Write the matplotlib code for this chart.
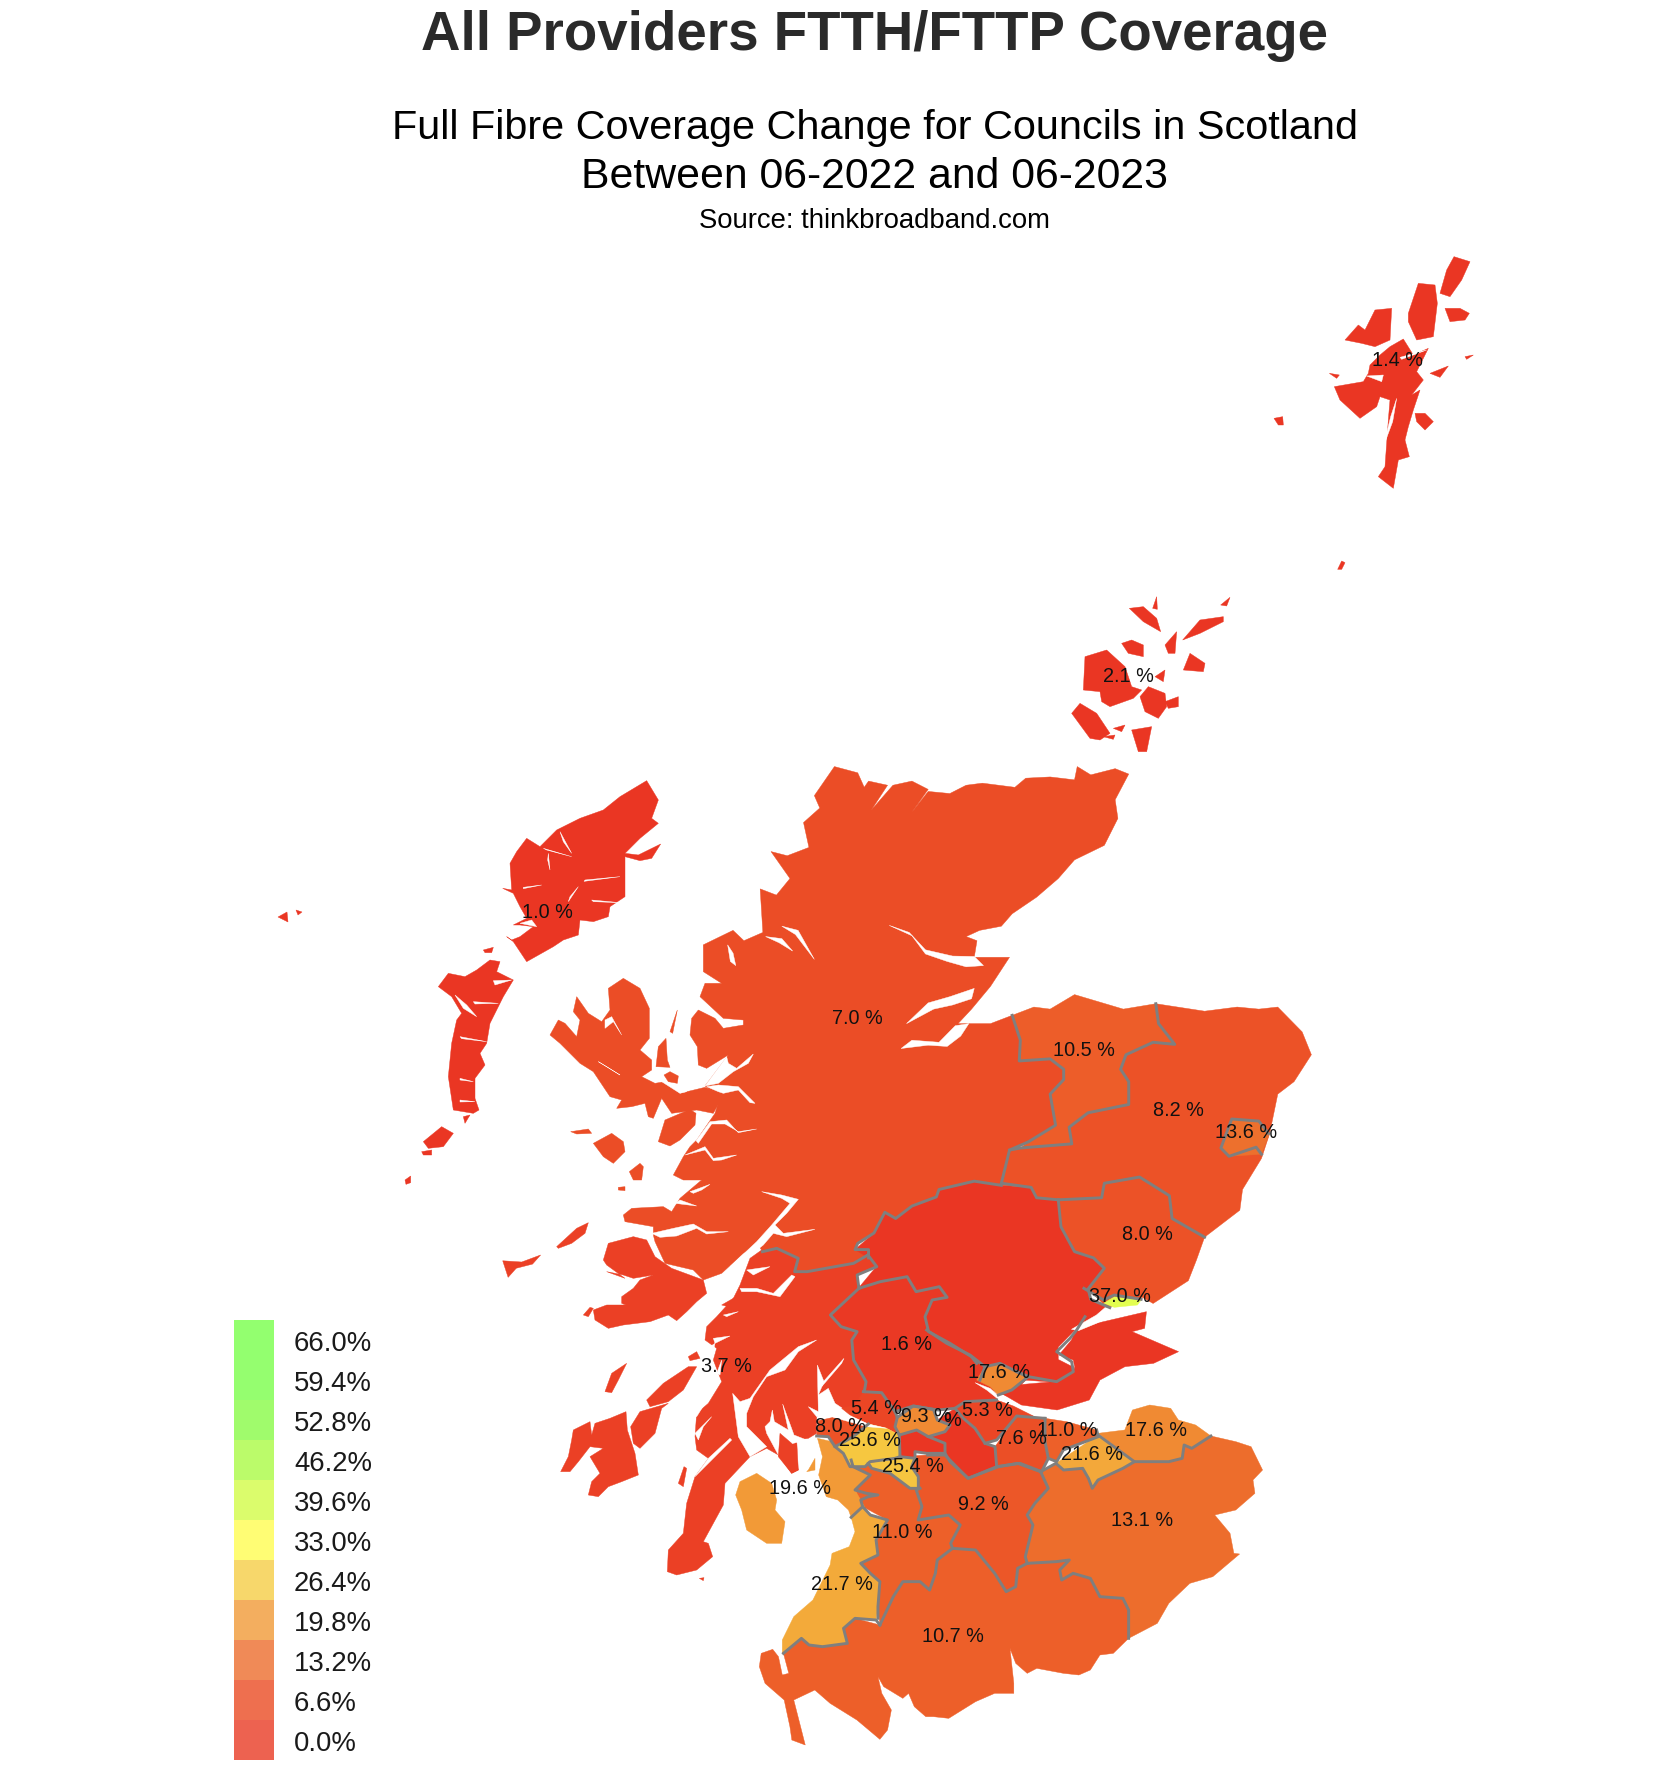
import matplotlib
matplotlib.use("Agg")
import matplotlib.pyplot as plt
from matplotlib.colors import LinearSegmentedColormap, Normalize

def crop(x0, y0, sx, sy):
    return lambda pts: [(x0 + a / sx, y0 + b / sy) for a, b in pts]

z3 = crop(700, 1200, 2.8, 3)
z4 = crop(700, 1400, 2.613, 3)
z5 = crop(500, 750, 1.845, 2.412)
z6 = crop(1000, 240, 3, 3)
z7 = crop(380, 750, 3, 3)
z8 = crop(800, 1330, 3, 3)
z9 = crop(540, 1200, 3, 3)
z10 = crop(590, 950, 3, 3)

# Data
title = "All Providers FTTH/FTTP Coverage"
subtitle = ["Full Fibre Coverage Change for Councils in Scotland", "Between 06-2022 and 06-2023"]
source = "Source: thinkbroadband.com"

legend_labels = ["66.0%", "59.4%", "52.8%", "46.2%", "39.6%", "33.0%", "26.4%", "19.8%", "13.2%", "6.6%", "0.0%"]
legend_colors = ["#93FF6F", "#95FE6F", "#A0FB6C", "#BBFB6A", "#DBFC6C", "#FFFD74", "#F7D76B", "#F3AE5F", "#F08A57", "#EE6F4F", "#ED6250"]

map_stops = [0, 7, 10.5, 13.1, 17.6, 21.7, 25.5, 33, 37, 66]
map_colors = ["#EA3323", "#EB4D26", "#ED5E29", "#ED6E2C", "#F08A33", "#F3AA3A", "#F6C640", "#FFFE54", "#E3FE50", "#75FB4C"]

label_text = ["1.4 %", "2.1 %", "1.0 %", "7.0 %", "10.5 %", "8.2 %", "13.6 %", "8.0 %", "37.0 %", "3.7 %",
              "1.6 %", "17.6 %", "5.4 %", "9.3 %", "%", "5.3 %", "8.0 %", "25.6 %", "11.0 %", "17.6 %",
              "7.6 %", "21.6 %", "25.4 %", "19.6 %", "9.2 %", "13.1 %", "11.0 %", "21.7 %", "10.7 %"]
label_x = [1398, 1128, 547, 857, 1084, 1178, 1246, 1147, 1120, 726,
           907, 999, 876, 926, 952, 987, 840, 870, 1067, 1156,
           1021, 1092, 913, 800, 983, 1142, 902, 842, 953]
label_y = [361, 677, 912, 1018, 1051, 1110, 1133, 1235, 1296, 1366,
           1345, 1373, 1408, 1417, 1420, 1410, 1427, 1441, 1431, 1430,
           1439, 1455, 1467, 1488, 1505, 1521, 1533, 1585, 1637]

# council borders, shared by the outlines below
b_high_moray = z5([(945, 640), (960, 700), (958, 750), (1015, 745), (1040, 770), (1040, 795), (1015, 830), (1025, 905), (975, 945), (940, 965), (925, 1045)])
b_high_perth = z5([(925, 1050), (875, 1040), (810, 1060), (805, 1078), (760, 1100), (730, 1130), (710, 1115), (690, 1165), (660, 1190), (655, 1205), (680, 1205), (680, 1225)])
b_high_argyll = z3([(470, 165), (430, 190), (300, 215), (265, 215), (275, 175), (215, 145), (175, 155)])
b_perth_argyll = z3([(470, 165), (495, 200), (440, 225), (445, 265)])
b_stirling_perth = z3([(445, 265), (505, 245), (580, 230), (605, 275), (670, 260), (692, 292), (650, 300), (630, 350), (640, 395), (700, 430), (760, 470), (775, 490)])
b_stirling_argyll = z3([(445, 265), (365, 345), (395, 380), (440, 395), (425, 420), (430, 480), (465, 545), (460, 575)])
b_moray_aber = z5([(1210, 612), (1215, 660), (1245, 710), (1205, 705), (1155, 735), (1145, 770), (1160, 800), (1160, 855), (1085, 875), (1050, 910), (1055, 950), (960, 960), (940, 965)])
b_perth_aber = z5([(925, 1045), (980, 1055), (990, 1080), (1030, 1085)])
b_angus_aber = z5([(1030, 1085), (1110, 1080), (1115, 1045), (1180, 1030), (1235, 1075), (1240, 1130), (1300, 1175)])
b_perth_angus = z5([(1030, 1085), (1035, 1150), (1060, 1210), (1095, 1225), (1115, 1250), (1085, 1300), (1090, 1325), (1125, 1345)])
b_fife_perth = z8([(650, 125), (685, 140), (770, 155), (820, 125), (815, 95), (770, 65), (810, 25), (830, 0), (855, -40)])
b_clack = z8([(540, 150), (555, 110), (600, 100), (650, 125), (685, 140), (660, 160), (635, 180), (595, 195)])
b_stirling_clack = z8([(380, 0), (440, 40), (510, 75), (555, 110)])
b_wdun = z8([(190, 185), (245, 188), (285, 245), (292, 262), (285, 290), (298, 315)])
b_stirling_south = z8([(285, 245), (340, 228), (400, 238), (415, 240), (465, 235), (495, 215), (590, 210)])
b_orange = z8([(292, 262), (340, 228), (400, 238), (412, 270), (450, 285), (435, 305), (385, 320), (350, 300), (298, 315)])
b_glasgow = z8([(298, 315), (300, 380), (345, 385), (345, 365), (380, 370), (435, 370), (435, 340), (385, 320)])
b_inverclyde = z8([(50, 318), (85, 320), (105, 350), (160, 320), (205, 282)])
b_renfrew = z8([(105, 350), (130, 370), (150, 410), (195, 410), (210, 395), (285, 385), (300, 380)])
b_erenfrew = z8([(205, 400), (215, 415), (270, 430), (330, 475), (355, 475), (355, 440), (335, 410), (345, 385)])
b_nlan = z8([(435, 370), (450, 395), (505, 445), (590, 410), (585, 350), (555, 340), (525, 295), (490, 265), (465, 235)])
b_falkirk = z8([(555, 340), (590, 330), (650, 258), (735, 265)])
b_wlothian = z8([(590, 410), (660, 400), (725, 425), (745, 385), (735, 335), (735, 265)])
b_edinburgh = z8([(745, 385), (770, 395), (790, 360), (895, 320), (890, 300)])
b_midlothian = z4([(1040, 105), (1135, 185), (1105, 205), (1040, 240), (1025, 265), (1015, 235), (1000, 205), (950, 210), (930, 190), (890, 215)])
b_elothian = z4([(1135, 185), (1225, 185), (1260, 175), (1265, 135), (1285, 145), (1335, 108)])
b_slan_east = z4([(890, 215), (910, 265), (875, 310), (855, 345), (870, 375), (850, 470), (855, 490)])
b_slan_north = z4([(890, 215), (830, 190), (780, 200), (700, 235), (640, 165), (595, 165)])
b_border_dg = z4([(855, 490), (930, 485), (965, 480), (940, 510), (945, 540), (975, 520), (1020, 535), (1045, 590), (1105, 595), (1120, 630), (1120, 715)])
b_slan_dg = z4([(855, 490), (830, 505), (825, 560), (800, 575), (770, 520), (720, 450), (660, 445)])
b_slan_eayr = z4([(660, 445), (655, 430), (680, 375), (650, 345), (570, 360), (580, 320), (565, 270), (575, 265)])
b_eayr_dg = z4([(660, 445), (620, 480), (615, 520), (600, 570), (575, 545), (530, 545), (505, 590), (470, 675)])
b_eayr_sayr = z4([(395, 352), (425, 320), (445, 345), (490, 360), (460, 420), (465, 465), (420, 490), (445, 520), (470, 545), (465, 620), (465, 655)])
b_sayr_dg = z4([(470, 675), (460, 660), (405, 655), (375, 685), (385, 730), (320, 740), (285, 735), (265, 715), (218, 760)])
b_nayr_eayr = z4([(425, 320), (420, 300), (440, 290), (465, 285), (435, 280), (405, 270), (445, 225), (400, 200), (395, 180)])

highland = (b_high_moray + b_high_perth + b_high_argyll
            + z9([(655, 135), (610, 160), (545, 220), (490, 240), (460, 210), (375, 190), (345, 125)])
            + z10([(190, 855), (190, 830), (105, 815), (100, 795), (125, 775), (220, 770), (245, 785), (270, 745), (335, 690), (280, 690), (250, 675),
                   (280, 620), (300, 590), (320, 570), (375, 490), (390, 440), (345, 408), (415, 315), (350, 355), (325, 345), (322, 290), (300, 255),
                   (305, 205), (325, 180), (375, 205), (400, 235), (460, 225), (460, 210), (400, 205), (330, 140), (345, 100), (395, 100), (340, 65), (340, 0)])
            + z5([(375, 470), (430, 435), (450, 460), (485, 440), (480, 335), (510, 350), (535, 310), (500, 245), (530, 255), (570, 235), (560, 175), (590, 140), (580, 110),
                  (617, 40), (660, 55), (672, 90), (680, 75), (715, 85), (685, 145), (725, 85), (760, 75), (790, 95), (760, 150), (790, 100), (830, 105), (860, 85), (890, 80),
                  (950, 90), (970, 68), (1015, 65), (1060, 72), (1065, 40), (1090, 60), (1135, 45), (1160, 58), (1135, 120), (1140, 165), (1115, 230), (1060, 265), (1030, 310),
                  (990, 355), (945, 395), (925, 425), (885, 435), (860, 450), (880, 460), (875, 500), (940, 500), (905, 570), (870, 625), (845, 660), (905, 660)]))
skye = z10([(55, 115), (100, 85), (150, 115), (178, 175), (178, 265), (150, 300), (185, 330), (185, 360), (155, 380), (195, 400), (225, 395), (270, 430), (345, 412),
            (385, 425), (395, 445), (370, 490), (320, 480), (245, 490), (215, 445), (190, 505), (175, 500), (165, 460), (125, 470), (80, 475), (95, 450), (60, 440), (20, 380), (10, 365)]) \
    + z7([(600, 940), (540, 880), (510, 855), (535, 810), (555, 820), (590, 860), (600, 810), (580, 785), (590, 740), (625, 790), (665, 815), (690, 780)])
sleat = z10([(205, 575), (225, 510), (300, 478), (318, 490), (315, 525), (270, 570), (240, 588)])
raasay = z10([(198, 350), (205, 290), (228, 265), (232, 330), (240, 352)])
rona = z10([(240, 245), (262, 180), (248, 250)])
rum = z10([(10, 580), (65, 550), (100, 575), (105, 605), (70, 640), (40, 620)])
eigg = z10([(118, 665), (150, 640), (160, 650), (155, 690), (130, 690)])
muck = z10([(85, 712), (105, 710), (105, 722), (85, 720)])
canna = z7([(572, 1145), (625, 1137), (635, 1150), (590, 1152)])
highland_lochs = [
    z10([(515, 725), (575, 735), (625, 748), (590, 790), (555, 825), (580, 850), (675, 838), (590, 860), (550, 850), (520, 885), (440, 950), (420, 950), (500, 875), (545, 825), (600, 760), (575, 745)]),
    z10([(185, 850), (250, 835), (310, 822), (350, 845), (415, 845), (350, 852), (320, 835), (260, 858), (210, 862)]),
    z10([(255, 760), (320, 768), (270, 750)]),
    z10([(300, 725), (360, 703), (335, 720), (310, 730)]),
    z10([(285, 615), (345, 590), (370, 625), (440, 615), (395, 630), (370, 632), (345, 600)]),
    z10([(318, 572), (360, 515), (410, 510), (445, 548), (500, 537), (445, 545), (405, 522), (365, 522), (325, 580)]),
    z10([(350, 410), (385, 405), (445, 410), (495, 460), (480, 458), (445, 420), (400, 430), (385, 425)]),
    z10([(345, 408), (410, 320), (415, 340), (440, 355), (490, 312), (475, 340), (430, 365), (385, 400)]),
    z10([(225, 365), (265, 375), (290, 425), (270, 430), (215, 395)]),
    z10([(45, 210), (65, 200), (95, 255), (70, 215), (45, 235)]),
    z10([(25, 335), (90, 375), (50, 350)]),
    z5([(718, 423), (755, 440), (785, 482), (835, 497), (875, 498), (892, 520), (860, 523), (825, 510), (785, 492), (760, 448)]),
    z5([(750, 660), (790, 610), (830, 595), (875, 575), (870, 600), (835, 615), (800, 625)]),
    z5([(740, 720), (760, 700), (810, 705), (840, 665), (865, 660), (850, 690), (825, 715), (790, 712)]),
    z5([(420, 470), (430, 490), (435, 520), (425, 510)]),
    z5([(490, 450), (520, 455), (540, 485), (515, 465)]),
    z5([(520, 425), (550, 435), (580, 505), (545, 445)]),
]
scalpay = z10([(222, 375), (240, 365), (265, 378), (262, 400), (235, 395)])

lewis = z7([(800, 92), (835, 150), (815, 205), (835, 220), (780, 265), (735, 310), (775, 315), (842, 282), (815, 325), (780, 332), (735, 320), (735, 440), (690, 470), (685, 500), (640, 515), (600, 510),
            (595, 555), (550, 570), (520, 590), (440, 635), (400, 575), (380, 560), (395, 570), (420, 560), (460, 530), (420, 525), (400, 525), (440, 505), (420, 470), (400, 430), (368, 415), (395, 420),
            (390, 340), (410, 305), (440, 265), (480, 290), (530, 240), (600, 205), (670, 180), (720, 140)])
uist = z7([(175, 710), (205, 670), (255, 680), (290, 660), (330, 630), (360, 635), (350, 665), (400, 690), (370, 740), (350, 780), (330, 820), (320, 880), (300, 910), (315, 945), (285, 985), (285, 1045),
           (297, 1080), (280, 1090), (220, 1080), (205, 980), (215, 880), (230, 810), (245, 790), (215, 740)])
barra = z7([(130, 1175), (185, 1130), (220, 1150), (190, 1190), (145, 1195)])
vatersay = z7([(125, 1205), (155, 1200), (155, 1215), (130, 1215)])
mingulay = z7([(75, 1290), (92, 1278), (92, 1298), (78, 1303)])
benbecula = z7([(250, 1100), (270, 1095), (255, 1120)])
scarp = z7([(310, 600), (340, 592), (335, 608), (315, 608)])
isles_lochs = [
    z7([(505, 310), (510, 360), (503, 330)]), z7([(430, 412), (485, 405), (430, 416)]), z7([(615, 390), (720, 380), (612, 394)]),
    z7([(565, 455), (595, 410), (570, 440)]), z7([(635, 450), (720, 458), (640, 455)]), z7([(490, 295), (575, 320), (500, 300)]),
    z7([(540, 245), (575, 310), (550, 275)]), z7([(225, 735), (260, 765), (290, 800), (250, 775)]), z7([(280, 755), (355, 760), (285, 762)]),
    z7([(240, 860), (320, 875), (245, 866)]), z7([(340, 692), (395, 690), (345, 705)]), z7([(240, 985), (280, 995), (240, 990)]),
    z7([(240, 1050), (285, 1055), (240, 1056)]), z7([(420, 520), (455, 510), (470, 530)]),
]

orkney = [z6([(255, 1250), (320, 1230), (375, 1280), (395, 1340), (425, 1350), (400, 1375), (330, 1400), (305, 1385), (300, 1355), (250, 1350)]),
          z6([(215, 1420), (240, 1390), (290, 1420), (330, 1480), (300, 1500), (270, 1495)]),
          z6([(395, 1470), (455, 1460), (440, 1535), (415, 1535)]),
          z6([(420, 1370), (445, 1340), (495, 1360), (500, 1400), (475, 1435), (435, 1415)]),
          z6([(495, 1385), (535, 1370), (535, 1400), (505, 1405)]),
          z6([(365, 1210), (395, 1200), (430, 1215), (430, 1250), (385, 1240)]),
          z6([(388, 1105), (430, 1100), (470, 1135), (482, 1175), (430, 1145)]),
          z6([(458, 1105), (470, 1070), (472, 1108)]),
          z6([(495, 1215), (530, 1175), (525, 1240), (505, 1240)]),
          z6([(548, 1200), (600, 1140), (670, 1130), (670, 1145), (600, 1180)]),
          z6([(550, 1290), (570, 1240), (615, 1270), (610, 1295)]),
          z6([(465, 1310), (495, 1290), (490, 1325)]),
          z6([(662, 1095), (690, 1072), (680, 1098)]),
          z6([(310, 1490), (345, 1485), (340, 1498)]),
          z6([(340, 1465), (375, 1455), (365, 1475)]),
          z6([(1013, 988), (1025, 963), (1035, 968), (1025, 988)])]
shetland = [z6([(1003, 440), (1090, 425), (1105, 400), (1110, 375), (1140, 345), (1170, 320), (1210, 297), (1240, 345), (1285, 325), (1250, 395), (1270, 420), (1235, 465), (1260, 450), (1240, 510), (1225, 560),
                (1215, 600), (1228, 650), (1195, 660), (1180, 745), (1135, 710), (1155, 680), (1160, 610), (1165, 540), (1170, 480), (1140, 470), (1130, 500), (1080, 535), (1020, 480)]),
            z6([(1225, 220), (1255, 130), (1305, 135), (1312, 190), (1300, 290), (1250, 300), (1225, 245)]),
            z6([(1320, 160), (1340, 90), (1362, 50), (1410, 65), (1385, 120), (1350, 170)]),
            z6([(1335, 205), (1380, 205), (1408, 220), (1395, 240), (1350, 245)]),
            z6([(1035, 300), (1075, 255), (1095, 270), (1125, 210), (1175, 205), (1170, 300), (1125, 320), (1085, 310)]),
            z6([(1290, 400), (1345, 378), (1320, 412)]),
            z6([(1245, 520), (1275, 520), (1300, 545), (1275, 570), (1250, 545)]),
            z6([(822, 535), (848, 530), (850, 555), (835, 555)]),
            z6([(988, 400), (1018, 405), (1010, 415)]),
            z6([(1395, 350), (1420, 345), (1400, 358)])]
shetland_lochs = [z6([(1190, 475), (1172, 530), (1150, 620), (1178, 545)]), z6([(1150, 405), (1100, 408), (1145, 425)]), z6([(1200, 352), (1280, 330), (1205, 358)])]
st_kilda = [[(278, 917), (288, 922), (287, 912)], [(296, 910), (302, 912), (298, 915)]]

argyll = (z9([(665, 150), (630, 175), (600, 255), (580, 295), (530, 350), (500, 380), (495, 420), (530, 445), (520, 480), (545, 545), (505, 610), (470, 640), (465, 710), (470, 750), (505, 775),
              (465, 830), (440, 910), (430, 1000), (385, 1050), (382, 1115), (410, 1125), (470, 1110), (518, 1070), (505, 1030), (490, 1025), (550, 915), (555, 850), (630, 770), (680, 745), (715, 765),
              (755, 820), (775, 810), (770, 720), (805, 715), (830, 700), (830, 650), (900, 650), (960, 640), (985, 625)]) + b_stirling_argyll[::-1] + b_perth_argyll[::-1] + b_high_argyll)
mull = z9([(190, 180), (205, 130), (280, 110), (320, 120), (345, 170), (395, 205), (490, 240), (500, 280), (470, 305), (440, 335), (410, 362), (385, 345), (330, 365), (250, 375), (205, 385), (165, 360), (160, 330),
           (200, 315), (260, 315), (330, 305), (270, 320), (245, 310), (245, 290), (280, 265), (300, 240), (340, 225), (280, 235), (250, 225), (200, 215), (255, 235), (200, 195)])
iona = z9([(130, 345), (150, 322), (160, 325), (145, 350)])
lismore = z9([(545, 315), (585, 292), (565, 320)])
coll = z9([(50, 140), (110, 85), (145, 68), (135, 100), (95, 130), (55, 145)])
tiree = z5([(5, 1232), (40, 1235), (75, 1218), (60, 1240), (30, 1250), (15, 1272)])
islay = z9([(62, 815), (85, 770), (95, 720), (100, 690), (150, 665), (155, 705), (165, 670), (210, 655), (258, 635), (262, 690), (285, 760), (295, 825), (245, 845), (205, 860), (175, 890), (145, 885),
            (155, 845), (180, 820), (150, 770), (190, 745), (150, 740), (115, 785), (90, 815)])
jura_south = z9([(272, 680), (300, 635), (385, 610), (365, 625), (345, 700), (300, 745), (280, 730)])
jura_north = z9([(320, 600), (370, 550), (445, 500), (470, 500), (430, 570), (385, 605), (330, 620)])
colonsay = z9([(195, 575), (215, 520), (260, 490), (235, 540), (215, 578)])
scarba = z9([(445, 470), (470, 455), (480, 475), (450, 482)])
gigha = z9([(415, 850), (432, 800), (440, 805), (430, 860)])
sanda = z9([(478, 1135), (492, 1133), (490, 1142)])
argyll_lochs = [
    z9([(578, 580), (600, 605), (630, 595), (690, 510), (775, 440), (830, 420), (775, 455), (735, 510), (680, 530), (640, 590), (620, 640), (620, 680), (680, 740), (630, 770), (595, 710)]),
    z9([(675, 680), (690, 665), (697, 630), (703, 665), (745, 690), (728, 612), (762, 705), (800, 720), (720, 740), (715, 765), (680, 700)]),
    z9([(805, 620), (835, 635), (832, 495), (852, 545), (835, 585), (865, 565), (885, 610), (930, 640), (990, 665), (960, 680), (900, 665), (830, 650)]),
    z9([(912, 475), (850, 545), (845, 560), (905, 490)]),
    z9([(505, 775), (570, 715), (575, 720), (520, 775), (465, 830)]),
    z9([(465, 700), (515, 650), (490, 680), (475, 720)]),
    z9([(455, 640), (520, 570), (470, 650)]),
    z9([(600, 265), (650, 265), (700, 280), (755, 225), (765, 230), (720, 290), (650, 275), (605, 275)]),
    z9([(620, 210), (690, 200), (640, 225)]),
    z9([(550, 345), (595, 335), (560, 350)]),
    z9([(520, 415), (570, 408), (525, 430)]),
    z9([(510, 440), (525, 430), (520, 455)]),
    z9([(530, 520), (545, 480), (540, 525)]),
]
bute = z9([(715, 770), (720, 700), (755, 730), (775, 810), (755, 820)])
arran = z9([(587, 885), (600, 845), (650, 820), (695, 850), (710, 900), (705, 930), (735, 965), (725, 1030), (680, 1030), (620, 990), (605, 930)])
cumbrae = z9([(805, 810), (825, 775), (825, 810), (800, 815)])
nayrshire = z4([(307, 115), (345, 125), (395, 180), (400, 200), (445, 225), (405, 270), (430, 320), (395, 352), (388, 330), (360, 300), (330, 290), (310, 225), (320, 170)])
sayrshire = z4([(395, 352), (405, 395), (390, 440), (345, 460), (340, 495), (295, 600), (245, 650), (215, 720), (215, 760), (265, 715), (285, 735), (320, 740), (385, 730), (375, 685), (405, 655), (460, 660), (465, 620),
                (470, 545), (445, 520), (420, 490), (465, 465), (460, 420), (490, 360), (445, 345), (425, 320)])
eayrshire = z4([(405, 270), (400, 190), (440, 170), (520, 170), (575, 265), (565, 270), (580, 320), (570, 360), (650, 345), (680, 375), (655, 430), (660, 445), (620, 480), (615, 520), (600, 570), (575, 545), (530, 545), (505, 590), (470, 675),
                (465, 620), (470, 545), (420, 490), (465, 465), (460, 420), (490, 360), (425, 320)])
slanark = z4([(520, 170), (595, 165), (640, 150), (700, 235), (780, 200), (830, 190), (890, 215), (910, 265), (875, 310), (855, 345), (870, 375), (850, 470), (855, 490), (830, 505), (825, 560), (800, 575), (770, 520), (720, 450),
              (660, 445), (655, 430), (680, 375), (650, 345), (570, 360), (580, 320), (565, 270), (575, 265)])
dumfries = z4([(215, 760), (265, 715), (285, 735), (320, 740), (385, 730), (375, 685), (405, 655), (470, 675), (505, 590), (530, 545), (575, 545), (600, 570), (615, 520), (620, 480), (660, 445), (720, 450), (770, 520), (800, 575), (825, 560),
               (830, 505), (855, 490), (930, 485), (965, 480), (940, 510), (945, 540), (975, 520), (1020, 535), (1045, 590), (1105, 595), (1120, 630), (1120, 715), (1080, 760), (1045, 765), (1020, 810), (990, 825), (950, 820), (880, 805),
               (855, 820), (825, 790), (810, 745), (820, 850), (820, 880), (770, 880), (720, 905), (650, 955), (610, 950), (590, 950), (560, 920), (545, 880), (530, 895), (480, 860), (465, 830), (475, 880), (500, 930), (490, 990), (470, 1018),
               (410, 960), (340, 910), (300, 870), (245, 900), (275, 1035), (240, 1020), (235, 980), (220, 900), (170, 850), (155, 800), (160, 760), (190, 748), (205, 770), (215, 825), (232, 820), (218, 760)])
borders_council = z4([(1335, 108), (1400, 125), (1440, 140), (1470, 210), (1445, 240), (1450, 280), (1400, 330), (1345, 345), (1385, 400), (1395, 460), (1410, 462), (1340, 530), (1280, 550), (1225, 610), (1195, 670), (1120, 715), (1120, 630), (1105, 595),
                      (1045, 590), (1020, 535), (975, 520), (945, 540), (940, 510), (965, 480), (930, 485), (855, 490), (850, 470), (870, 375), (855, 345), (875, 310), (910, 265), (890, 215), (930, 190), (950, 210), (1000, 205), (1015, 235), (1025, 265),
                      (1040, 240), (1105, 205), (1135, 185), (1225, 185), (1260, 175), (1265, 135), (1285, 145)])
elothian = z4([(1040, 100), (1110, 90), (1130, 30), (1175, 15), (1230, 25), (1250, 60), (1295, 75), (1335, 108), (1285, 145), (1265, 135), (1260, 175), (1225, 185), (1135, 185)])
midlothian = z4([(1040, 105), (1135, 185), (1105, 205), (1040, 240), (1025, 265), (1015, 235), (1000, 205), (950, 210), (930, 190)])
edinburgh = z8([(735, 265), (800, 275), (890, 300), (895, 320), (790, 360), (770, 395), (745, 385), (735, 335)])
wlothian = z8([(585, 350), (650, 258), (735, 265), (735, 335), (745, 385), (725, 425), (660, 400), (590, 410)])
falkirk = z8([(465, 235), (495, 215), (590, 210), (640, 228), (700, 258), (650, 258), (590, 330), (555, 340), (525, 295), (490, 265)])
nlanark = z8([(385, 320), (435, 340), (435, 370), (450, 395), (505, 445), (590, 410), (585, 350), (555, 340), (525, 295), (490, 265), (465, 235), (412, 270), (450, 285), (435, 305)])
orange_council = z8([(292, 262), (340, 228), (400, 238), (412, 270), (450, 285), (435, 305), (385, 320), (350, 300), (298, 315), (285, 290)])
glasgow = z8([(298, 315), (350, 300), (385, 320), (435, 340), (435, 370), (380, 370), (345, 365), (345, 385), (300, 380)])
renfrew = z8([(105, 350), (160, 320), (205, 282), (260, 295), (298, 315), (300, 380), (285, 385), (210, 395), (195, 410), (150, 410), (130, 370)])
inverclyde = z8([(50, 318), (55, 272), (100, 262), (205, 282), (160, 320), (105, 350), (85, 320)])
erenfrew = z8([(205, 400), (285, 385), (300, 380), (345, 385), (335, 410), (355, 440), (355, 475), (330, 475), (270, 430), (215, 415)])
wdun = z8([(190, 185), (245, 188), (285, 245), (292, 262), (285, 290), (298, 315), (258, 293), (205, 282), (150, 255), (125, 235), (165, 225)])
stirling = (b_stirling_perth + z8([(555, 110), (540, 150), (595, 195), (590, 210), (495, 215), (465, 235), (415, 240), (400, 238), (340, 228), (285, 245), (245, 188), (190, 185)]) + b_stirling_argyll[::-1])
clack = z8([(530, 150), (555, 110), (600, 100), (650, 125), (685, 140), (660, 160), (635, 180), (595, 195), (570, 170)])
perth = z5([(655, 1205), (690, 1165), (710, 1115), (730, 1130), (760, 1100), (805, 1075), (810, 1060), (875, 1040), (925, 1050), (980, 1055), (990, 1080), (1030, 1085), (1035, 1150), (1060, 1210), (1095, 1225), (1115, 1250), (1085, 1300),
            (1090, 1325), (1125, 1345), (1110, 1360), (1060, 1400), (1030, 1440), (1030, 1470), (1060, 1490), (1055, 1515), (1025, 1525), (970, 1520), (940, 1560), (880, 1530), (780, 1400), (660, 1300), (695, 1245), (680, 1225)])
fife = z3([(1050, 395), (1110, 370), (1250, 335), (1245, 385), (1210, 395), (1340, 455), (1270, 490), (1190, 500), (1120, 540), (1090, 600), (1000, 630), (900, 615), (860, 590), (810, 560), (835, 570), (885, 555), (990, 545), (1050, 505), (1045, 480), (1005, 465), (1040, 420)])
angus = z5([(1030, 1085), (1110, 1080), (1115, 1045), (1180, 1030), (1235, 1075), (1240, 1130), (1300, 1175), (1285, 1230), (1270, 1280), (1205, 1335), (1185, 1320), (1120, 1345), (1085, 1300), (1115, 1250), (1095, 1225), (1060, 1210), (1035, 1150)])
dundee = z3([(1130, 310), (1160, 290), (1235, 300), (1225, 315), (1160, 322)])
aberdeenshire = z5([(1210, 612), (1300, 630), (1360, 620), (1400, 625), (1435, 620), (1480, 680), (1497, 735), (1465, 800), (1435, 830), (1420, 925), (1405, 985), (1370, 1060), (1365, 1110), (1300, 1175), (1240, 1130), (1235, 1075), (1180, 1030), (1115, 1045), (1110, 1080),
                    (1030, 1085), (990, 1080), (980, 1055), (925, 1050), (940, 965), (960, 960), (1055, 950), (1050, 910), (1085, 875), (1160, 855), (1160, 800), (1145, 770), (1155, 735), (1205, 705), (1245, 710), (1215, 660)])
moray = z5([(945, 640), (985, 620), (1015, 625), (1060, 590), (1150, 625), (1210, 612), (1215, 660), (1245, 710), (1205, 705), (1155, 735), (1145, 770), (1160, 800), (1160, 855), (1085, 875), (1050, 910), (1055, 950), (960, 960), (975, 945), (1025, 905), (1015, 830), (1040, 795), (1040, 770), (1015, 745), (958, 750), (960, 700)])
aberdeen = z5([(1330, 960), (1350, 890), (1400, 895), (1420, 925), (1405, 975), (1345, 980)])
b_aberdeen = z5([(1405, 975), (1395, 958), (1345, 980), (1330, 960), (1350, 890), (1400, 895), (1418, 925)])
b_dundee = z3([(1075, 265), (1130, 300), (1160, 285), (1235, 298)])
tay = z3([(1040, 388), (1110, 345), (1135, 322), (1250, 320), (1190, 332), (1110, 370), (1060, 392)])
forth = z8([(525, 158), (570, 175), (610, 210), (600, 212), (560, 180)])
clyde_top = z8([(110, 240), (205, 282), (260, 295), (200, 290), (100, 262)])

# fill value of each outline, painted in this order, one overlaps the other
regions = [(7.0, highland), (7.0, skye), (7.0, sleat), (7.0, raasay), (7.0, rona), (7.0, rum), (7.0, eigg), (7.0, muck), (7.0, canna)]
regions += [(None, p) for p in highland_lochs]
regions += [(7.0, scalpay)]
regions += [(1.0, p) for p in (lewis, uist, barra, vatersay, mingulay, benbecula, scarp, *st_kilda)]
regions += [(None, p) for p in isles_lochs]
regions += [(1.0, p) for p in orkney] + [(1.0, p) for p in shetland]
regions += [(None, p) for p in shetland_lochs]
regions += [(3.7, p) for p in (argyll, mull, iona, lismore, coll, tiree, islay, jura_south, jura_north, colonsay, scarba, gigha, sanda)]
regions += [(None, p) for p in argyll_lochs]
regions += [(3.7, bute)]
regions += [(19.6, arran), (19.6, cumbrae), (11.0, eayrshire), (19.6, nayrshire), (21.7, sayrshire), (9.2, slanark), (10.7, dumfries), (13.1, borders_council),
            (17.6, elothian), (21.6, midlothian), (11.0, edinburgh), (7.6, wlothian), (5.3, falkirk), (1.0, nlanark), (1.0, perth), (1.0, fife), (8.0, angus),
            (8.2, aberdeenshire), (10.5, moray), (13.6, aberdeen), (None, tay), (37.0, dundee), (1.6, stirling), (17.6, clack), (None, forth), (5.4, wdun),
            (17.6, orange_council), (1.0, glasgow), (8.0, inverclyde), (25.6, renfrew), (25.4, erenfrew), (None, clyde_top)]

border_lines = [b_high_moray, b_high_perth, b_high_argyll, b_perth_argyll, b_stirling_perth, b_stirling_argyll, b_moray_aber, b_perth_aber, b_angus_aber, b_perth_angus,
                b_fife_perth, b_clack, b_stirling_clack, b_wdun, b_stirling_south, b_orange, b_glasgow, b_inverclyde, b_renfrew, b_erenfrew, b_nlan, b_falkirk, b_wlothian,
                b_edinburgh, b_midlothian, b_elothian, b_slan_east, b_slan_north, b_border_dg, b_slan_dg, b_slan_eayr, b_eayr_dg, b_eayr_sayr, b_sayr_dg, b_nayr_eayr, b_aberdeen, b_dundee]

# Figure
plt.rcParams['font.family'] = ['Liberation Sans', 'DejaVu Sans']
fig = plt.figure(figsize=(16.68, 17.84), dpi=100)
ax = fig.add_axes([0, 0, 1, 1])
ax.set_xlim(0, 1668)
ax.set_ylim(1784, 0)
ax.axis("off")

cmap = LinearSegmentedColormap.from_list("cov", [(s / 66, c) for s, c in zip(map_stops, map_colors)])
norm = Normalize(0, 66)

for value, outline in regions:
    col = "white" if value is None else cmap(norm(value))
    xs, ys = zip(*outline)
    ax.fill(xs, ys, color=col, lw=0.3)

for line in border_lines:
    xs, ys = zip(*line)
    ax.plot(xs, ys, color="#7F7F7F", lw=2.1, solid_joinstyle="round")

for t, x, y in zip(label_text, label_x, label_y):
    ax.text(x, y, t, ha="center", va="center", fontsize=14.3, color="#111111")

for i, (lab, c) in enumerate(zip(legend_labels, legend_colors)):
    ax.bar(254, 40, width=40, bottom=1320 + 40 * i, color=c, lw=0)
    ax.text(294, 1344 + 40 * i, lab, ha="left", va="center", fontsize=19.8, color="#1a1a1a")

ax.text(875, 50, title, ha="center", va="baseline", fontsize=39.3, fontweight="bold", color="#2a2a2a")
ax.text(875, 139, subtitle[0], ha="center", va="baseline", fontsize=29.75, color="black")
ax.text(875, 188, subtitle[1], ha="center", va="baseline", fontsize=30.8, color="black")
ax.text(875, 228, source, ha="center", va="baseline", fontsize=19.8, color="black")

fig.savefig("out.png", dpi=100)
